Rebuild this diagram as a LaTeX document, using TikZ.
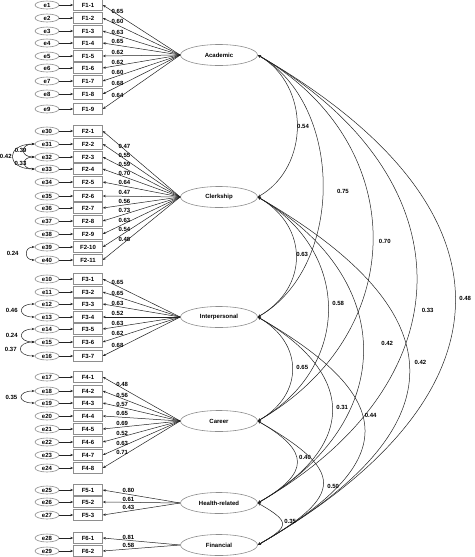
\documentclass[tikz,border=0pt]{standalone}
\usepackage{fontspec}
\setmainfont{Liberation Sans}
\usetikzlibrary{arrows.meta,shapes.geometric}
\definecolor{ink}{HTML}{222222}
\definecolor{rim}{HTML}{8E8E8E}
\tikzset{
  item/.style={rectangle,draw=rim,line width=0.6pt,minimum width=29pt,minimum height=11pt,inner sep=0pt,font=\fontsize{6}{7}\selectfont\bfseries},
  err/.style={ellipse,draw=rim,line width=0.6pt,minimum width=24pt,minimum height=8pt,inner sep=0pt,font=\fontsize{6}{7}\selectfont\bfseries},
  factor/.style={ellipse,draw=rim,line width=0.6pt,minimum width=77pt,minimum height=21pt,inner sep=0pt,font=\fontsize{6}{7}\selectfont\bfseries},
  arrow/.style={-{Stealth[length=3pt,width=2.4pt]},ink,line width=0.5pt},
  twoway/.style={{Stealth[length=3pt,width=2.4pt]}-{Stealth[length=3pt,width=2.4pt]},ink,line width=0.5pt},
  est/.style={font=\fontsize{6}{7}\selectfont\bfseries,inner sep=1pt,text=black}
}

\begin{document}
\begin{tikzpicture}[x=1pt,y=1pt]
  \useasboundingbox (0,0) rectangle (474,-557);
  % latent factors
  \node[factor] (acad) at (219,-55) {Academic};
  \node[factor] (clerk) at (219,-197) {Clerkship};
  \node[factor] (inter) at (219,-317) {Interpersonal};
  \node[factor] (career) at (219,-421) {Career};
  \node[factor] (health) at (219,-503) {Health-related};
  \node[factor] (fin) at (219,-545) {Financial};

  % items, errors and loadings
  \foreach \n/\y/\k/\w in {1/5/1/0.65,2/18/2/0.60,3/31/3/0.63,4/43/4/0.65,5/56/5/0.62,6/68/6/0.62,7/81/7/0.60,8/94/8/0.68,9/109/9/0.64}{
    \node[item] (f1i\n) at (88,-\y) {F1-\n};
    \node[err] (e\k) at (47,-\y) {e\k};
    \draw[arrow] (e\k) -- (f1i\n);
    \draw[arrow] (acad.west) -- (f1i\n.east) node[est,pos=0.81,above] {\w};
  }
  \foreach \n/\y/\k/\w in {1/131/30/0.47,2/144/31/0.55,3/157/32/0.59,4/169/33/0.70,5/182/34/0.64,6/196/35/0.47,7/208/36/0.56,8/221/37/0.73,9/234/38/0.63,10/247/39/0.54,11/260/40/0.48}{
    \node[item] (f2i\n) at (88,-\y) {F2-\n};
    \node[err] (e\k) at (47,-\y) {e\k};
    \draw[arrow] (e\k) -- (f2i\n);
    \draw[arrow] (clerk.west) -- (f2i\n.east) node[est,pos=0.72,above] {\w};
  }
  \foreach \n/\y/\k/\w in {1/279/10/0.65,2/292/11/0.65,3/304/12/0.63,4/317/13/0.52,5/329/14/0.63,6/342/15/0.62,7/356/16/0.68}{
    \node[item] (f3i\n) at (88,-\y) {F3-\n};
    \node[err] (e\k) at (47,-\y) {e\k};
    \draw[arrow] (e\k) -- (f3i\n);
    \draw[arrow] (inter.west) -- (f3i\n.east) node[est,pos=0.81,above] {\w};
  }
  \foreach \n/\y/\k/\w in {1/377/17/0.48,2/391/18/0.56,3/403/19/0.57,4/416/20/0.65,5/429/21/0.69,6/442/22/0.52,7/455/23/0.63,8/468/24/0.71}{
    \node[item] (f4i\n) at (88,-\y) {F4-\n};
    \node[err] (e\k) at (47,-\y) {e\k};
    \draw[arrow] (e\k) -- (f4i\n);
    \draw[arrow] (career.west) -- (f4i\n.east) node[est,pos=0.75,above] {\w};
  }
  \foreach \n/\y/\k/\w in {1/490/25/0.80,2/502/26/0.61,3/515/27/0.43}{
    \node[item] (f5i\n) at (88,-\y) {F5-\n};
    \node[err] (e\k) at (47,-\y) {e\k};
    \draw[arrow] (e\k) -- (f5i\n);
    \draw[arrow] (health.west) -- (f5i\n.east) node[est,pos=0.67,above] {\w};
  }
  \foreach \n/\y/\k/\w in {1/538/28/0.81,2/551/29/0.58}{
    \node[item] (f6i\n) at (88,-\y) {F6-\n};
    \node[err] (e\k) at (47,-\y) {e\k};
    \draw[arrow] (e\k) -- (f6i\n);
    \draw[arrow] (fin.west) -- (f6i\n.east) node[est,pos=0.67,above] {\w};
  }

  % error covariances
  \draw[twoway] (e31.west) to[out=180,in=180,looseness=2.9] node[est,xshift=-3pt]{0.39} (e32.west);
  \draw[twoway] (e32.west) to[out=180,in=180,looseness=2.9] node[est,xshift=-4pt]{0.33} (e33.west);
  \draw[twoway] (e31.west) to[out=180,in=180,looseness=3.0] node[est,xshift=-7pt]{0.42} (e33.west);
  \draw[twoway] (e39.west) to[out=180,in=180,looseness=2.1] node[est,xshift=-14pt]{0.24} (e40.west);
  \draw[twoway] (e12.west) to[out=180,in=180,looseness=3.4] node[est,xshift=-10pt]{0.46} (e13.west);
  \draw[twoway] (e14.west) to[out=180,in=180,looseness=3.4] node[est,xshift=-10pt]{0.24} (e15.west);
  \draw[twoway] (e15.west) to[out=180,in=180,looseness=3.4] node[est,xshift=-10pt]{0.37} (e16.west);
  \draw[twoway] (e18.west) to[out=180,in=180,looseness=3.8] node[est,xshift=-10pt]{0.35} (e19.west);

  % factor covariances
  \draw[twoway] (acad.east) to[out=-30,in=30,looseness=1.09] node[est,xshift=6pt]{0.54} (clerk.east);
  \draw[twoway] (acad.east) to[out=-30,in=30,looseness=0.98] node[est,xshift=20pt,yshift=-5pt]{0.75} (inter.east);
  \draw[twoway] (acad.east) to[out=-30,in=30,looseness=1.24] node[est,xshift=12pt,yshift=-3pt]{0.70} (career.east);
  \draw[twoway] (acad.east) to[out=-30,in=30,looseness=1.40] node[est,xshift=11pt,yshift=-31pt]{0.33} (health.east);
  \draw[twoway] (acad.east) to[out=-30,in=30,looseness=1.59] node[est,xshift=10pt,yshift=2pt]{0.48} (fin.east);
  \draw[twoway] (clerk.east) to[out=-30,in=30,looseness=1.26] node[est,xshift=6pt,yshift=3pt]{0.63} (inter.east);
  \draw[twoway] (clerk.east) to[out=-30,in=30,looseness=1.24] node[est,xshift=10pt,yshift=6pt]{0.58} (career.east);
  \draw[twoway] (clerk.east) to[out=-30,in=30,looseness=1.36] node[est,xshift=24pt,yshift=7pt]{0.42} (health.east);
  \draw[twoway] (clerk.east) to[out=-30,in=30,looseness=1.72] node[est,xshift=11pt,yshift=9pt]{0.42} (fin.east);
  \draw[twoway] (inter.east) to[out=-30,in=30,looseness=1.31] node[est,xshift=10pt,yshift=2pt]{0.65} (career.east);
  \draw[twoway] (inter.east) to[out=-30,in=30,looseness=1.58] node[est,xshift=10pt,yshift=3pt]{0.31} (health.east);
  \draw[twoway] (inter.east) to[out=-30,in=30,looseness=1.85] node[est,xshift=6pt,yshift=16pt]{0.44} (fin.east);
  \draw[twoway] (career.east) to[out=-30,in=30,looseness=1.89] node[est,xshift=8pt,yshift=5pt]{0.40} (health.east);
  \draw[twoway] (career.east) to[out=-30,in=30,looseness=2.08] node[est,xshift=10pt,yshift=-3pt]{0.50} (fin.east);
  \draw[twoway] (health.east) to[out=-30,in=30,looseness=2.29] node[est,xshift=8pt,yshift=3pt]{0.35} (fin.east);
\end{tikzpicture}
\end{document}
